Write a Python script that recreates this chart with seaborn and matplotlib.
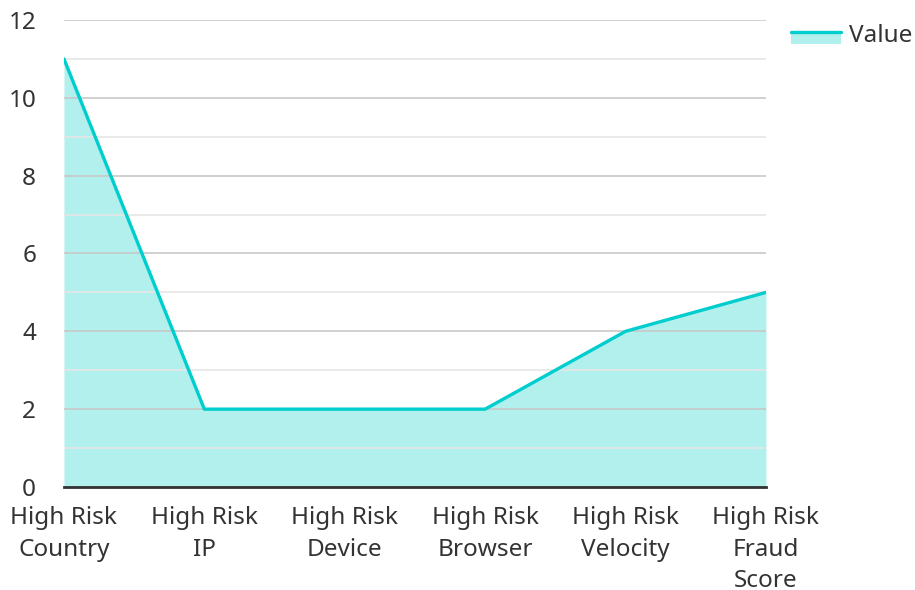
import matplotlib
matplotlib.use("Agg")
import matplotlib.pyplot as plt
import seaborn as sns
import pandas as pd
from matplotlib.patches import Rectangle
from matplotlib.lines import Line2D

categories = ["High Risk\nCountry", "High Risk\nIP", "High Risk\nDevice",
              "High Risk\nBrowser", "High Risk\nVelocity", "High Risk\nFraud\nScore"]
values = [11, 2, 2, 2, 4, 5]
series_name = "Value"

LINE = "#00CDCD"
FILL = "#B2F0EE"
TXT = "#333333"
FS = 17.5

sns.set_theme(style="white")
plt.rcParams["font.family"] = ["Noto Sans", "DejaVu Sans"]

df = pd.DataFrame({"x": range(len(categories)), "y": values})

fig = plt.figure(figsize=(9.15, 5.90), dpi=100)
ax = fig.add_axes([0.0699, 0.1746, 0.7672, 0.7915])

ax.fill_between(df["x"], 0, df["y"], color=FILL, linewidth=0, zorder=1)
sns.lineplot(data=df, x="x", y="y", ax=ax, color=LINE, linewidth=2.4, zorder=3,
             legend=False)

ax.set_xlim(0, len(categories) - 1)
ax.set_ylim(0, 12)
ax.set_yticks(range(0, 13, 2))
ax.set_yticks(range(1, 13, 2), minor=True)
ax.grid(True, which="major", axis="y", color="#c8c8c8", linewidth=1.2, zorder=2)
ax.grid(True, which="minor", axis="y", color="#e6e6e6", linewidth=1.2, zorder=2)
ax.set_axisbelow(False)
ax.grid(False, axis="x")
for s in ["top", "right", "left"]:
    ax.spines[s].set_visible(False)
ax.spines["bottom"].set_color(TXT)
ax.spines["bottom"].set_linewidth(2)
ax.spines["bottom"].set_zorder(4)

ax.set_xticks(range(len(categories)))
ax.set_xticklabels(categories, fontsize=FS, color=TXT, linespacing=1.4)
ax.tick_params(axis="y", labelsize=FS, labelcolor=TXT, length=0, pad=20, which="both")
ax.tick_params(axis="x", length=0, pad=14)
ax.set_xlabel("")
ax.set_ylabel("")


class AreaHandler:
    def legend_artist(self, legend, orig_handle, fontsize, handlebox):
        x0, y0 = handlebox.xdescent, handlebox.ydescent
        w, h = handlebox.width, handlebox.height
        rect = Rectangle((x0, y0), w, h, facecolor=FILL, edgecolor="none",
                         transform=handlebox.get_transform())
        ln = Line2D([x0, x0 + w], [y0 + h, y0 + h], color=LINE, linewidth=2.4,
                    transform=handlebox.get_transform())
        handlebox.add_artist(rect)
        handlebox.add_artist(ln)
        return rect


proxy = Rectangle((0, 0), 1, 1)
leg = fig.legend([proxy], [series_name], handler_map={Rectangle: AreaHandler()},
                 loc="upper left", bbox_to_anchor=(0.846, 0.988), frameon=False,
                 fontsize=FS, handlelength=2.05, handleheight=0.42,
                 handletextpad=0.35, labelcolor=TXT, borderpad=0.2)

fig.savefig("out.png", dpi=100)
